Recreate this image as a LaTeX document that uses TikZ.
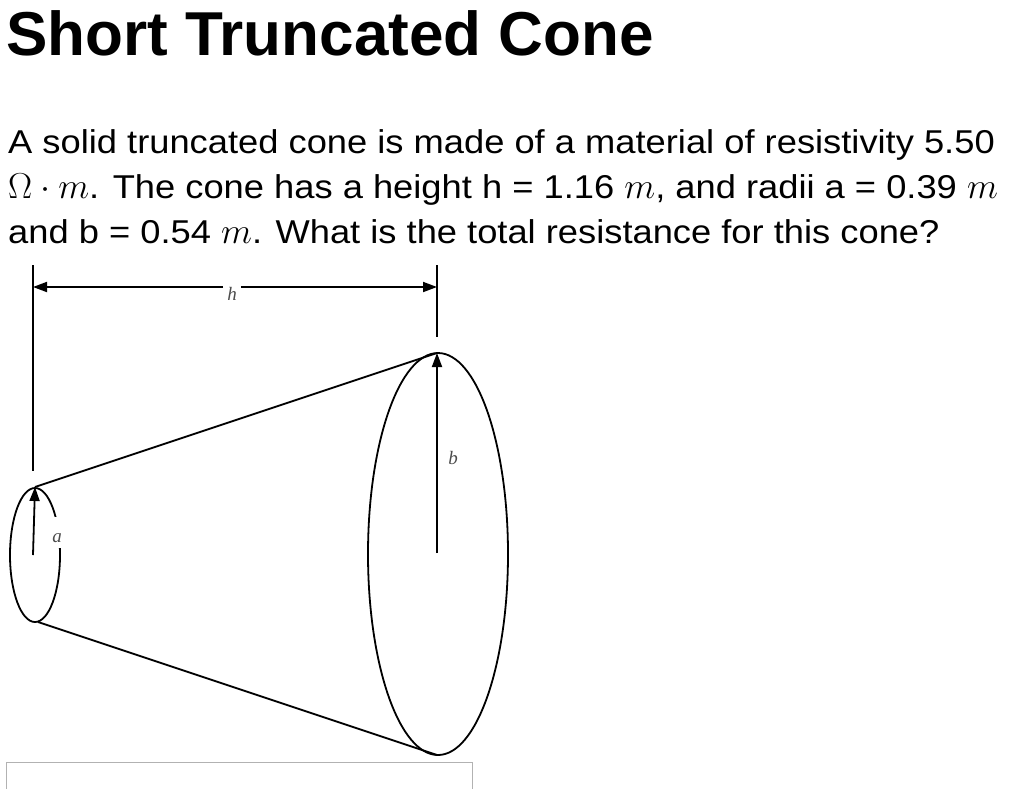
\documentclass[tikz,border=0pt]{standalone}
\usepackage{fontspec}
\setmainfont{Liberation Sans}
\newfontfamily\bodyfont[FakeStretch=1.1]{Liberation Sans}
\newfontfamily\lblfont{Liberation Serif}
\newcommand{\mm}{\scalebox{1.45}{$m$}}
\newcommand{\omdot}{\scalebox{1.45}{$\Omega\cdot m$}}
\usetikzlibrary{arrows.meta}
\begin{document}
\begin{tikzpicture}[x=1pt,y=-1pt,
  ln/.style={line width=1.8pt},
  dim/.style={line width=1.8pt,-{Triangle[length=14pt,width=10pt]}},
  body/.style={anchor=base west,inner sep=0,font=\fontsize{33}{33}\selectfont\bodyfont},
  lbl/.style={font=\fontsize{19}{19}\selectfont\lblfont\itshape, text=black!70}]
\useasboundingbox (0,0) rectangle (1012,788);
\node[anchor=base west,inner sep=0,font=\fontsize{62}{62}\selectfont\bfseries] (title) at (6,55) {Short Truncated Cone};
\node[body] (l1) at (8,153) {A solid truncated cone is made of a material of resistivity 5.50};
\node[body] (l2) at (8,198) {\omdot. The cone has a height h = 1.16 \mm, and radii a = 0.39 \mm};
\node[body] (l3) at (8,243) {and b = 0.54 \mm. What is the total resistance for this cone?};
% dimension
\coordinate (hl) at (33,287); \coordinate (hr) at (437,287);
\draw[ln] (33,265) -- (33,471);
\draw[ln] (437,265) -- (437,337);
\node[lbl,fill=white,inner sep=4pt] (h) at (232,294) {h};
\draw[dim] (h.west|-hl) -- (hl);
\draw[dim] (h.east|-hr) -- (hr);
% cone
\coordinate (at) at (35,487); \coordinate (ab) at (38,622);
\coordinate (bt) at (437,353); \coordinate (bb) at (437,755);
\draw[ln] (at) -- (bt);
\draw[ln] (ab) -- (bb);
\draw[ln] (35,555) ellipse[x radius=25,y radius=67];
\fill[white] (50,517) rectangle (66,548);
\draw[ln] (438,554) ellipse[x radius=70,y radius=201];
\draw[dim] (33,555) -- (at);
\draw[dim] (437,553) -- (bt);
\node[lbl] (a) at (57,538) {a};
\node[lbl] (b) at (453,458) {b};
\draw[black!30] (6,762) rectangle (472,800);
\end{tikzpicture}
\end{document}
